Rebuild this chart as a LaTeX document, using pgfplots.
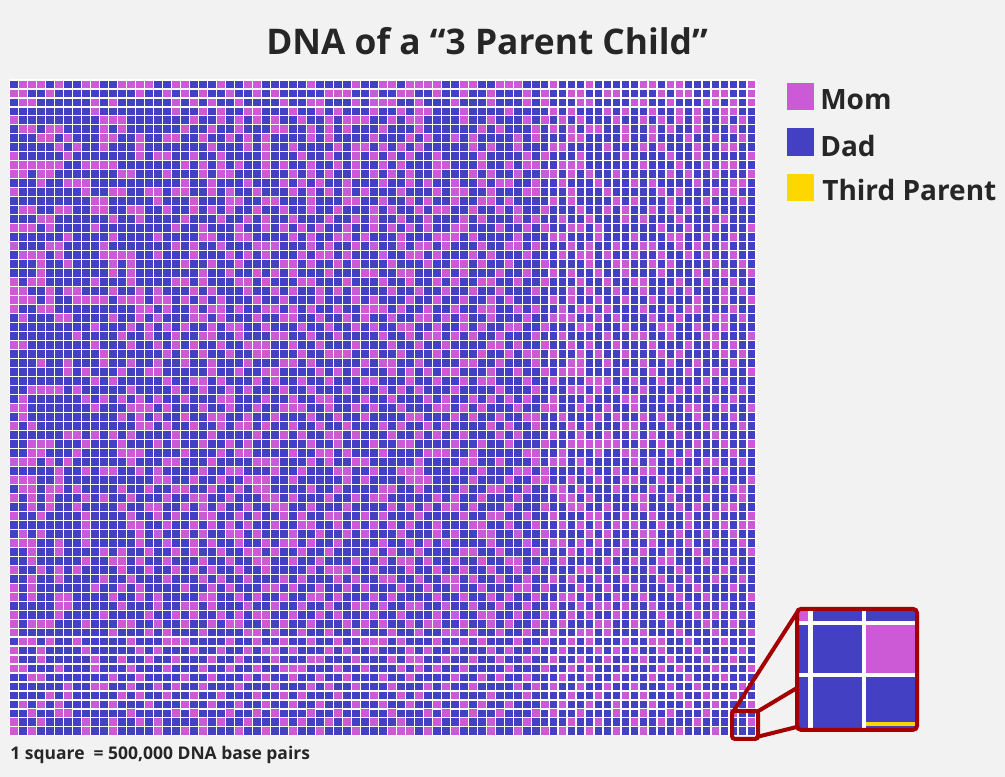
\documentclass[border=0pt]{standalone}
\usepackage{pgfplots}
\pgfplotsset{compat=1.18}
\usepackage{fontspec}
\setmainfont{Open Sans}
\definecolor{bgc}{RGB}{242,242,242}
\definecolor{mom}{RGB}{204,90,214}
\definecolor{dad}{RGB}{67,64,195}
\definecolor{third}{RGB}{255,215,0}
\definecolor{boxred}{RGB}{165,0,0}
\definecolor{txt}{RGB}{38,38,38}
\pgfplotsset{
  cellaxis/.style={
    scale only axis, axis on top,
    y dir=reverse,
    axis background/.style={fill=dad},
    axis line style={draw=none}, tick style={draw=none},
    xticklabels={}, yticklabels={},
    grid=major,
  },
  momcell/.style={color=mom, only marks, mark=square*, mark size=2.95pt, mark options={solid, fill=mom, draw opacity=0}},
  area/.style={mark=none, draw=none, fill=#1},
}
\newcommand{\R}[2]{\addplot[momcell] table[y expr=#1, row sep=\\]{c\\#2\\};}
\begin{document}
\begin{tikzpicture}
\fill[bgc] (0,0) rectangle (753.75pt,582.75pt);
\begin{axis}[cellaxis,
  at={(6.75pt,30.75pt)}, anchor=south west,
  width=560.25pt, height=492pt,
  xmin=-0.5, xmax=82.5, ymin=-0.5, ymax=72.5,
  xtick={-0.5,0.5,...,82.5}, ytick={-0.5,0.5,...,72.5},
  major grid style={white, line width=0.85pt},
]
\R{0}{1\\2\\3\\5\\8\\9\\12\\13\\14\\15\\18\\19\\23\\26\\27\\33\\38\\41\\42\\44\\45\\46\\47\\50\\51\\54\\55\\56\\60\\64\\70\\71\\73\\74\\82}
\R{1}{0\\1\\4\\14\\17\\19\\21\\24\\27\\29\\35\\36\\37\\40\\43\\44\\47\\50\\53\\57\\59\\62\\63\\66\\67\\72\\74\\75\\78\\79\\82}
\R{2}{1\\2\\9\\11\\18\\20\\22\\25\\30\\33\\34\\38\\40\\41\\42\\45\\49\\53\\57\\59\\63\\64\\69\\70\\73\\77\\78\\80\\82}
\R{3}{9\\18\\21\\23\\26\\27\\31\\34\\36\\40\\43\\45\\46\\50\\55\\60\\62\\66\\68\\71\\74\\76\\79\\80}
\R{4}{0\\10\\11\\12\\20\\23\\25\\27\\29\\32\\35\\37\\38\\39\\42\\44\\45\\50\\53\\57\\59\\61\\63\\67\\70\\72\\74\\76\\79\\81}
\R{5}{1\\2\\4\\5\\10\\12\\19\\22\\25\\29\\30\\33\\35\\37\\41\\45\\52\\54\\58\\60\\62\\64\\65\\68\\71\\73\\76\\80}
\R{6}{3\\4\\6\\10\\11\\14\\17\\18\\21\\24\\26\\28\\33\\35\\40\\44\\46\\49\\51\\56\\58\\62\\63\\68\\71\\75\\78\\81}
\R{7}{5\\7\\10\\14\\22\\26\\28\\31\\36\\38\\39\\41\\43\\45\\51\\53\\56\\60\\61\\66\\70\\72\\76\\79\\80}
\R{8}{0\\6\\14\\16\\17\\20\\23\\28\\32\\35\\38\\40\\42\\44\\47\\52\\57\\59\\63\\68\\73\\76\\82}
\R{9}{0\\1\\2\\3\\4\\5\\8\\9\\10\\11\\19\\21\\23\\25\\28\\30\\33\\36\\38\\41\\43\\47\\48\\52\\55\\57\\58\\61\\62\\63\\70\\74\\77\\79\\80}
\R{10}{0\\1\\3\\4\\12\\13\\17\\21\\23\\24\\28\\31\\33\\35\\38\\40\\42\\44\\47\\51\\53\\56\\59\\60\\62\\64\\67\\73\\75\\78\\82}
\R{11}{3\\6\\7\\8\\19\\22\\26\\30\\32\\34\\37\\41\\44\\46\\49\\52\\54\\55\\58\\61\\65\\69\\71\\76\\80\\81}
\R{12}{0\\8\\11\\12\\15\\16\\18\\19\\22\\24\\27\\31\\33\\35\\37\\39\\43\\47\\49\\50\\53\\57\\58\\62\\66\\72\\74\\78\\80}
\R{13}{9\\10\\16\\20\\24\\25\\28\\29\\33\\37\\38\\41\\44\\46\\49\\52\\53\\55\\60\\62\\67\\69\\73\\77\\81}
\R{14}{1\\2\\5\\6\\9\\10\\13\\14\\17\\20\\22\\24\\27\\30\\33\\36\\40\\42\\45\\47\\48\\51\\54\\56\\59\\63\\66\\68\\71\\73\\75\\78}
\R{15}{3\\4\\11\\14\\19\\23\\26\\28\\31\\35\\38\\40\\43\\46\\50\\52\\56\\58\\61\\64\\68\\70\\74\\79}
\R{16}{0\\1\\2\\4\\9\\18\\21\\25\\28\\30\\32\\34\\37\\40\\42\\44\\46\\49\\50\\54\\57\\59\\62\\63\\65\\72\\75\\78\\82}
\R{17}{6\\11\\16\\21\\22\\25\\26\\31\\33\\36\\37\\39\\43\\47\\48\\49\\51\\56\\60\\61\\65\\69\\73\\74\\77\\80}
\R{18}{0\\4\\5\\10\\18\\20\\23\\27\\28\\29\\33\\35\\38\\40\\43\\45\\46\\48\\52\\55\\56\\58\\62\\64\\67\\70\\71\\74\\76\\79}
\R{19}{1\\2\\3\\5\\10\\11\\12\\13\\16\\20\\24\\26\\28\\32\\34\\35\\37\\41\\44\\45\\47\\51\\53\\57\\61\\63\\64\\66\\69\\72\\75\\77\\80}
\R{20}{3\\6\\11\\13\\19\\22\\25\\30\\31\\33\\36\\38\\42\\46\\49\\50\\52\\55\\59\\64\\67\\68\\71\\73\\78\\81}
\R{21}{3\\11\\13\\21\\24\\27\\29\\31\\35\\39\\40\\43\\44\\48\\50\\54\\57\\60\\62\\65\\68\\72\\76\\79\\82}
\R{22}{0\\2\\3\\9\\13\\18\\19\\21\\25\\26\\28\\32\\33\\37\\41\\44\\47\\49\\52\\53\\56\\59\\63\\66\\69\\70\\74\\77\\80}
\R{23}{0\\1\\4\\6\\7\\11\\14\\16\\20\\22\\26\\29\\31\\34\\36\\38\\42\\45\\48\\51\\54\\58\\62\\64\\67\\70\\73\\75\\79\\81}
\R{24}{0\\1\\2\\4\\7\\8\\9\\10\\12\\13\\14\\16\\17\\19\\21\\23\\27\\30\\34\\38\\40\\44\\47\\50\\53\\55\\60\\62\\65\\68\\71\\76\\79\\82}
\R{25}{0\\3\\4\\14\\15\\17\\20\\22\\23\\25\\28\\29\\31\\33\\36\\39\\40\\41\\43\\46\\49\\52\\53\\56\\58\\61\\63\\64\\66\\70\\73\\75\\76\\80}
\R{26}{1\\5\\6\\11\\14\\16\\20\\21\\23\\27\\30\\31\\34\\37\\39\\42\\45\\46\\48\\50\\53\\57\\60\\61\\62\\65\\67\\71\\74\\78\\79\\81}
\R{27}{9\\13\\15\\17\\19\\22\\24\\25\\28\\32\\35\\38\\40\\43\\44\\47\\50\\52\\55\\56\\59\\63\\64\\68\\72\\73\\76\\79}
\R{28}{7\\12\\15\\18\\21\\22\\25\\29\\30\\33\\36\\41\\44\\46\\47\\49\\51\\54\\58\\61\\66\\69\\70\\73\\77\\78\\82}
\R{29}{0\\1\\9\\13\\16\\18\\20\\23\\26\\27\\28\\31\\34\\38\\42\\45\\48\\53\\54\\56\\59\\62\\64\\67\\71\\75\\78\\80}
\R{30}{10\\17\\19\\21\\24\\27\\28\\32\\35\\36\\37\\40\\43\\47\\49\\52\\55\\57\\58\\60\\63\\65\\68\\72\\74\\79\\81}
\R{31}{3\\6\\10\\13\\16\\19\\22\\26\\30\\31\\33\\39\\41\\42\\45\\50\\51\\54\\58\\62\\63\\66\\70\\73\\76\\80}
\R{32}{6\\8\\12\\15\\16\\22\\25\\28\\29\\34\\36\\38\\42\\44\\46\\48\\49\\53\\56\\59\\61\\62\\63\\68\\71\\75\\78\\82}
\R{33}{9\\11\\17\\20\\21\\23\\27\\29\\32\\35\\39\\40\\44\\47\\50\\52\\53\\57\\60\\64\\65\\66\\69\\72\\77\\79}
\R{34}{2\\3\\4\\5\\7\\13\\18\\21\\24\\26\\30\\33\\37\\41\\43\\45\\49\\54\\58\\62\\63\\65\\67\\70\\74\\76\\81}
\R{35}{1\\8\\10\\12\\14\\16\\19\\23\\24\\28\\31\\34\\35\\39\\42\\46\\48\\51\\53\\55\\57\\60\\64\\68\\69\\73\\78\\80}
\R{36}{0\\1\\9\\13\\14\\15\\17\\21\\24\\27\\30\\31\\32\\35\\38\\40\\43\\47\\48\\50\\52\\56\\59\\60\\63\\66\\69\\75\\76\\79\\82}
\R{37}{1\\12\\14\\16\\19\\22\\23\\26\\29\\33\\36\\39\\44\\45\\49\\51\\54\\57\\58\\61\\65\\67\\70\\72\\76\\80}
\R{38}{0\\2\\14\\15\\17\\20\\23\\25\\26\\28\\31\\34\\37\\41\\43\\46\\48\\53\\55\\58\\62\\64\\68\\69\\73\\77\\81}
\R{39}{6\\7\\9\\11\\13\\18\\22\\27\\30\\32\\35\\36\\38\\42\\45\\47\\50\\54\\56\\60\\63\\66\\69\\71\\74\\78}
\R{40}{2\\3\\4\\8\\12\\16\\18\\21\\24\\26\\29\\33\\36\\40\\43\\44\\49\\52\\55\\59\\62\\63\\64\\65\\66\\67\\70\\72\\76\\79\\82}
\R{41}{2\\3\\7\\12\\13\\14\\19\\23\\25\\26\\31\\34\\35\\37\\41\\46\\47\\48\\51\\57\\58\\61\\65\\68\\69\\73\\75\\80}
\R{42}{0\\1\\2\\4\\6\\13\\17\\18\\22\\27\\28\\29\\33\\35\\38\\39\\45\\50\\51\\54\\58\\60\\61\\63\\69\\71\\74\\77\\78\\81}
\R{43}{5\\8\\10\\11\\14\\16\\21\\24\\25\\29\\32\\36\\37\\40\\43\\44\\45\\49\\52\\56\\57\\59\\64\\67\\70\\71\\76\\79}
\R{44}{0\\1\\2\\5\\16\\17\\20\\23\\26\\27\\28\\31\\37\\39\\44\\45\\46\\51\\55\\58\\59\\62\\65\\68\\69\\72\\75\\78\\82}
\R{45}{1\\2\\4\\5\\7\\12\\15\\18\\19\\22\\25\\27\\28\\33\\36\\41\\42\\45\\50\\53\\54\\57\\60\\61\\63\\67\\71\\74\\80\\81}
\R{46}{0\\2\\4\\8\\10\\13\\17\\20\\21\\24\\28\\29\\31\\35\\38\\40\\41\\47\\49\\52\\56\\61\\62\\64\\69\\70\\73\\77\\81}
\R{47}{2\\4\\7\\12\\15\\16\\19\\21\\23\\26\\29\\30\\33\\37\\42\\44\\46\\48\\49\\51\\55\\59\\62\\63\\66\\70\\74\\76\\79\\80}
\R{48}{0\\3\\8\\13\\16\\18\\21\\22\\25\\27\\30\\32\\35\\36\\39\\41\\45\\50\\53\\54\\57\\60\\64\\65\\68\\71\\75\\78\\82}
\R{49}{8\\13\\14\\17\\20\\22\\24\\26\\29\\32\\33\\36\\38\\40\\42\\44\\47\\51\\52\\55\\58\\61\\63\\65\\67\\69\\72\\75\\79\\81\\82}
\R{50}{1\\3\\8\\14\\16\\19\\21\\24\\25\\27\\31\\34\\37\\39\\43\\47\\49\\52\\53\\56\\59\\64\\66\\70\\71\\74\\77\\80}
\R{51}{0\\1\\2\\5\\8\\14\\17\\20\\22\\25\\28\\30\\31\\33\\36\\41\\44\\46\\48\\53\\57\\60\\61\\63\\65\\68\\71\\75\\78\\81}
\R{52}{2\\5\\10\\12\\15\\18\\20\\23\\26\\27\\29\\32\\35\\40\\42\\45\\50\\51\\54\\58\\62\\64\\67\\70\\73\\76\\82}
\R{53}{2\\8\\11\\12\\14\\17\\21\\24\\27\\28\\31\\34\\38\\41\\43\\44\\46\\49\\52\\55\\56\\59\\61\\66\\69\\72\\73\\77\\80}
\R{54}{0\\3\\5\\7\\12\\15\\18\\20\\22\\25\\28\\33\\35\\36\\37\\40\\44\\47\\50\\53\\56\\58\\63\\64\\67\\71\\74\\79}
\R{55}{2\\5\\10\\13\\17\\21\\23\\26\\30\\32\\36\\38\\41\\42\\45\\48\\49\\51\\54\\57\\60\\62\\65\\68\\72\\75\\78\\81}
\R{56}{0\\2\\9\\12\\14\\19\\22\\24\\28\\29\\31\\34\\37\\39\\43\\46\\49\\52\\56\\57\\59\\63\\66\\69\\73\\76\\80}
\R{57}{0\\2\\5\\6\\11\\14\\16\\21\\22\\25\\27\\30\\33\\34\\36\\40\\42\\47\\50\\53\\55\\58\\61\\62\\64\\67\\70\\74\\77\\82}
\R{58}{5\\6\\12\\16\\19\\20\\22\\26\\29\\32\\35\\38\\39\\41\\44\\45\\48\\51\\54\\57\\60\\63\\65\\66\\68\\71\\75\\79}
\R{59}{0\\5\\10\\15\\18\\20\\23\\25\\27\\28\\31\\34\\36\\40\\43\\47\\49\\52\\53\\56\\59\\62\\64\\67\\72\\76\\78\\81}
\R{60}{0\\2\\3\\4\\8\\12\\13\\16\\19\\22\\24\\25\\28\\30\\33\\37\\39\\41\\44\\46\\47\\50\\53\\55\\58\\61\\65\\66\\69\\73\\77\\80}
\R{61}{0\\11\\15\\17\\21\\26\\27\\29\\32\\35\\38\\42\\45\\48\\49\\51\\54\\57\\60\\63\\64\\66\\70\\74\\78\\82}
\R{62}{1\\2\\4\\7\\13\\17\\18\\19\\24\\27\\30\\33\\36\\39\\40\\41\\43\\47\\50\\52\\56\\59\\62\\64\\68\\71\\72\\75\\79}
\R{63}{0\\3\\8\\14\\16\\20\\23\\26\\28\\29\\31\\35\\37\\40\\44\\46\\49\\53\\55\\58\\61\\65\\67\\69\\72\\76\\81}
\R{64}{0\\3\\9\\12\\15\\18\\22\\25\\29\\33\\34\\38\\42\\44\\45\\48\\51\\54\\57\\60\\63\\66\\70\\73\\77\\80}
\R{65}{0\\1\\5\\9\\13\\17\\21\\24\\27\\30\\31\\32\\36\\39\\43\\45\\47\\50\\55\\59\\62\\64\\68\\72\\74\\78\\82}
\R{66}{2\\3\\11\\14\\19\\22\\26\\28\\31\\34\\37\\41\\44\\49\\52\\54\\57\\61\\64\\67\\71\\75\\79}
\R{67}{6\\9\\10\\13\\16\\18\\21\\25\\29\\33\\35\\38\\42\\46\\48\\51\\56\\58\\60\\63\\66\\69\\73\\76\\81}
\R{68}{4\\6\\12\\14\\17\\20\\23\\27\\30\\32\\36\\40\\43\\45\\49\\53\\57\\62\\65\\68\\70\\74\\77\\80}
\R{69}{1\\3\\5\\9\\11\\15\\19\\22\\25\\28\\31\\34\\38\\41\\44\\47\\50\\52\\55\\59\\61\\64\\67\\71\\75\\78\\82}
\R{70}{2\\5\\6\\13\\18\\20\\24\\27\\29\\33\\36\\39\\42\\46\\48\\51\\54\\58\\60\\63\\67\\70\\73\\77\\80}
\R{71}{0\\3\\8\\11\\14\\16\\21\\23\\26\\30\\32\\35\\37\\40\\43\\47\\50\\53\\57\\62\\65\\69\\72\\76\\82}
\R{72}{0\\2\\8\\11\\16\\19\\21\\25\\28\\31\\34\\38\\42\\43\\44\\46\\49\\53\\56\\59\\61\\64\\67\\70\\74\\78}
\addplot[area=third] coordinates {(81.5,72.38) (82.5,72.38) (82.5,72.48) (81.5,72.48)} -- cycle;
\end{axis}
% inset
\begin{axis}[cellaxis,
  at={(599.25pt,36.75pt)}, anchor=south west,
  width=87pt, height=87.75pt,
  xmin=80.285, xmax=82.45, ymin=70.27, ymax=72.52,
  xtick={80.5,81.5}, ytick={70.5,71.5},
  major grid style={white, line width=3.3pt},
]
\addplot[area=mom] coordinates {(79.5,69.5) (80.5,69.5) (80.5,70.5) (79.5,70.5)} -- cycle;
\addplot[area=mom] coordinates {(81.5,70.5) (82.5,70.5) (82.5,71.5) (81.5,71.5)} -- cycle;
\addplot[area=third] coordinates {(81.5,72.40) (82.5,72.40) (82.5,72.48) (81.5,72.48)} -- cycle;
\end{axis}
\draw[boxred, line width=3pt, line cap=round] (549.75pt,48.75pt) -- (598.5pt,124.5pt);
\draw[boxred, line width=3pt, line cap=round] (567.75pt,48.75pt) -- (597.75pt,66.75pt);
\draw[boxred, line width=3pt, line cap=round] (567.75pt,30pt) -- (597.75pt,37.5pt);
\draw[boxred, line width=3pt, rounded corners=2pt] (549pt,28.5pt) rectangle (568.5pt,49.5pt);
\draw[boxred, line width=3pt, rounded corners=3pt] (597.75pt,35.25pt) rectangle (687.75pt,126pt);
% title
\node[anchor=base, text=txt, font=\fontsize{26.5}{31}\selectfont\bfseries, inner sep=0pt] at (365.25pt,541.5pt) {DNA of a “3 Parent Child”};
% legend
\fill[mom] (590.25pt,500.25pt) rectangle (610.5pt,520.5pt);
\fill[dad] (590.25pt,465.75pt) rectangle (610.5pt,486.75pt);
\fill[third] (590.25pt,432pt) rectangle (610.5pt,452.25pt);
\node[anchor=base west, text=txt, font=\fontsize{21}{25}\selectfont\bfseries, inner sep=0pt] at (615pt,500.25pt) {Mom};
\node[anchor=base west, text=txt, font=\fontsize{21}{25}\selectfont\bfseries, inner sep=0pt] at (615pt,465pt) {Dad};
\node[anchor=base west, text=txt, font=\fontsize{21}{25}\selectfont\bfseries, inner sep=0pt] at (616.5pt,432pt) {Third Parent};
% footnote
\node[anchor=base west, text=txt, font=\fontsize{13.1}{15}\selectfont\bfseries, inner sep=0pt] at (7.5pt,12.75pt) {1 square\ \ = 500,000 DNA base pairs};
\end{tikzpicture}
\end{document}
